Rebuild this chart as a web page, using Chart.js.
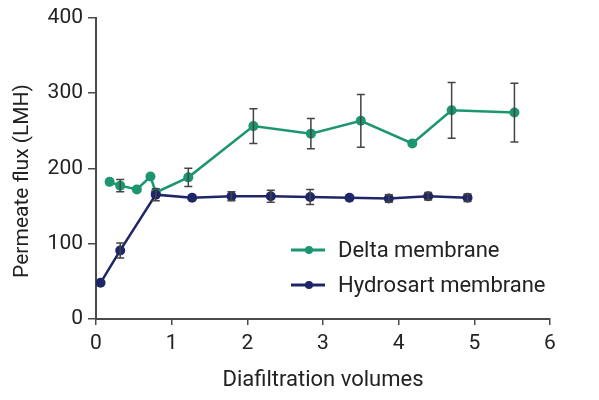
<!DOCTYPE html>
<html>
<head>
<meta charset="utf-8">
<script src="https://cdn.jsdelivr.net/npm/chart.js@4/dist/chart.umd.min.js"></script>
<style>
  html, body { margin: 0; padding: 0; background: #fff; }
  #wrap { width: 599px; height: 400px; position: relative; }
</style>
</head>
<body>
<div id="wrap"><canvas id="chart"></canvas></div>
<script>
// Data
const DELTA_X = [0.18, 0.32, 0.54, 0.72, 0.79, 1.22, 2.08, 2.84, 3.5, 4.18, 4.7, 5.53];
const DELTA_Y = [182, 177, 172, 189, 168, 188, 256, 246, 263, 233, 277, 274];
const DELTA_ERR = [0, 8, 0, 0, 0, 12, 23, 20, 35, 0, 37, 39];

const HYDRO_X = [0.06, 0.32, 0.79, 1.27, 1.79, 2.31, 2.83, 3.35, 3.87, 4.39, 4.91];
const HYDRO_Y = [48, 91, 165, 161, 163, 163, 162, 161, 160, 163, 161];
const HYDRO_ERR = [0, 10, 8, 0, 6, 8, 10, 0, 5, 5, 5];

const X_TICKS = [0, 1, 2, 3, 4, 5, 6];
const Y_TICKS = [0, 100, 200, 300, 400];

const SERIES_NAMES = ['Delta membrane', 'Hydrosart membrane'];
const X_TITLE = 'Diafiltration volumes';
const Y_TITLE = 'Permeate flux (LMH)';
const GREEN = '#1b9670';
const NAVY = '#1f2668';
const INK = '#222';
const AXIS = '#4a4a4a';
const FONT = 'Roboto, "Liberation Sans", sans-serif';

function toPoints(xs, ys, errs) {
  return xs.map((x, i) => ({ x, y: ys[i], err: errs[i] }));
}

/** Vertical error bars with caps */
const errorBars = {
  id: 'errorBars',
  afterDatasetsDraw(chart) {
    const { ctx, scales: { x, y } } = chart;
    ctx.save();
    ctx.strokeStyle = '#444';
    ctx.lineWidth = 1.5;
    chart.data.datasets.forEach(ds => {
      ds.data.forEach(p => {
        if (!p.err) return;
        const px = x.getPixelForValue(p.x);
        const top = y.getPixelForValue(p.y + p.err);
        const bot = y.getPixelForValue(p.y - p.err);
        ctx.beginPath();
        ctx.moveTo(px, top); ctx.lineTo(px, bot);
        ctx.moveTo(px - 4, top); ctx.lineTo(px + 4, top);
        ctx.moveTo(px - 4, bot); ctx.lineTo(px + 4, bot);
        ctx.stroke();
      });
    });
    ctx.restore();
  }
};

/** Legend inside the plot (lower right) + y-axis title, sitting a bit below centre */
const extras = {
  id: 'extras',
  afterDraw(chart) {
    const { ctx } = chart;
    const items = [
      { label: SERIES_NAMES[0], color: GREEN, y: 250 },
      { label: SERIES_NAMES[1], color: NAVY, y: 285 }
    ];
    ctx.save();
    ctx.font = `22px ${FONT}`;
    ctx.textBaseline = 'middle';
    items.forEach(it => {
      ctx.strokeStyle = it.color;
      ctx.lineWidth = 3;
      ctx.beginPath();
      ctx.moveTo(291, it.y); ctx.lineTo(325, it.y);
      ctx.stroke();
      ctx.fillStyle = it.color;
      ctx.beginPath();
      ctx.arc(309, it.y, 4, 0, Math.PI * 2);
      ctx.fill();
      ctx.fillStyle = INK;
      ctx.fillText(it.label, 338, it.y + 1);
    });

    ctx.translate(23, 181);
    ctx.rotate(-Math.PI / 2);
    ctx.textAlign = 'center';
    ctx.font = `21px ${FONT}`;
    ctx.fillText(Y_TITLE, 0, 0);
    ctx.restore();
  }
};

new Chart(document.getElementById('chart'), {
  type: 'line',
  data: {
    datasets: [
      {
        label: SERIES_NAMES[0],
        data: toPoints(DELTA_X, DELTA_Y, DELTA_ERR),
        borderColor: GREEN,
        backgroundColor: GREEN,
        borderWidth: 2.5,
        pointRadius: 5,
        pointBorderWidth: 0,
        tension: 0,
        order: 1
      },
      {
        label: SERIES_NAMES[1],
        data: toPoints(HYDRO_X, HYDRO_Y, HYDRO_ERR),
        borderColor: NAVY,
        backgroundColor: NAVY,
        borderWidth: 2.5,
        pointRadius: 5,
        pointBorderWidth: 0,
        tension: 0,
        order: 0
      }
    ]
  },
  options: {
    responsive: true,
    maintainAspectRatio: false,
    animation: false,
    layout: { padding: { top: 16, right: 49, left: 0, bottom: 0 } },
    plugins: {
      legend: { display: false },
      tooltip: { enabled: false }
    },
    scales: {
      x: {
        type: 'linear',
        min: 0,
        max: 6,
        afterBuildTicks: s => { s.ticks = X_TICKS.map(v => ({ value: v })); },
        afterFit: s => { s.height = 81; },
        border: { color: AXIS, width: 2 },
        grid: { display: true, drawOnChartArea: false, drawTicks: true, tickLength: 6, color: AXIS, lineWidth: 1.5 },
        ticks: { color: INK, font: { family: FONT, size: 21 }, padding: 6, maxRotation: 0 },
        title: { display: true, text: X_TITLE, color: INK, font: { family: FONT, size: 22 }, padding: { top: 0, bottom: 6 } }
      },
      y: {
        min: 0,
        max: 400,
        afterBuildTicks: s => { s.ticks = Y_TICKS.map(v => ({ value: v })); },
        afterFit: s => { s.width = 96; },
        border: { color: AXIS, width: 2 },
        grid: { display: true, drawOnChartArea: false, drawTicks: true, tickLength: 8, color: AXIS, lineWidth: 1.5 },
        ticks: { color: INK, font: { family: FONT, size: 21 }, padding: 5 },
        title: { display: false }
      }
    }
  },
  plugins: [errorBars, extras]
});
</script>
</body>
</html>
